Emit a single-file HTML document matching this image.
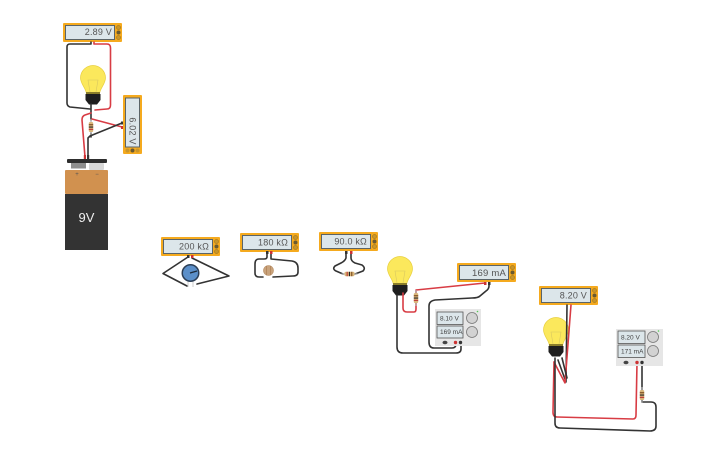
<!DOCTYPE html>
<html><head><meta charset="utf-8">
<style>
html,body{margin:0;padding:0;background:#fff;width:725px;height:453px;overflow:hidden}
svg{display:block;filter:blur(.3px)}
text{font-family:"Liberation Sans",sans-serif}
.m{font-size:9px;fill:#555;text-anchor:end;letter-spacing:.2px}
.p{font-size:6.5px;fill:#444}
.k{fill:none;stroke:#333;stroke-width:1.6;stroke-linejoin:round;stroke-linecap:round}
.r{fill:none;stroke:#d83c44;stroke-width:1.6;stroke-linejoin:round;stroke-linecap:round}
</style></head><body>
<svg width="725" height="453" viewBox="0 0 725 453" xmlns="http://www.w3.org/2000/svg">
<defs>
<g id="meter">
<rect x="0" y="0" width="59" height="19" rx="1" fill="#f5aa1e"/>
<rect x="2.500" y="2.500" width="49" height="14" fill="#dce6ea" stroke="#5a6468" stroke-width="1"/>
<circle cx="55.500" cy="4.500" r="2" fill="#c9952a" stroke="#8a6a20" stroke-width=".5"/>
<circle cx="55.500" cy="9.500" r="2" fill="#6a5a30"/>
<circle cx="55.500" cy="14.500" r="2" fill="#c9952a" stroke="#8a6a20" stroke-width=".5"/>
</g>
<g id="bulb">
<path d="M-6.500 15C-7 9-12.500 5-12.500 -1A12.500 12.500 0 0 1 12.500 -1C12.500 5 7 9 6.500 15Z" fill="#fbe85c" stroke="#e8cf3e" stroke-width=".7"/>
<path d="M-3 13L-5 1H5L3 13" fill="none" stroke="#d8c860" stroke-width=".6"/>
<rect x="-7" y="13" width="14" height="4" fill="#8a7d2a"/>
<path d="M-7.500 15H7.500V21L4 25.500H-4L-7.500 21Z" fill="#1e1e1e"/>
</g>
<g id="res">
<rect x="-2.200" y="-5" width="4.400" height="10" rx="1.400" fill="#d9b67a"/>
<rect x="-2.200" y="-2.800" width="4.400" height="1.100" fill="#7a4a20"/>
<rect x="-2.200" y="-.5" width="4.400" height="1.100" fill="#222"/>
<rect x="-2.200" y="1.800" width="4.400" height="1.100" fill="#b33"/>
<path d="M0 -8V-5M0 5V8" stroke="#aaa" stroke-width="1.200"/>
</g>
</defs>

<!-- Top circuit -->
<use href="#meter" x="63" y="23"/>
<text class="m" x="112" y="35">2.89 V</text>
<path class="k" d="M91 42V44H70Q67 44 67 47V103Q67 106 70 107L90 109"/>
<path class="r" d="M94 42V44H107Q110.500 44 110.500 48V105Q110.500 109 107 109L95 110"/>
<use href="#bulb" x="93" y="79"/>
<path class="k" d="M91 104V120M91 133V137"/>
<use href="#res" x="91" y="127"/>
<path class="r" d="M91 113L85 115Q82 116 82 120L85 157"/>
<path class="r" d="M92 119L122 127"/>
<path class="k" d="M88 157V138L90 136L122 123"/>
<rect x="121" y="121.500" width="2.500" height="3" fill="#333"/>
<rect x="121" y="126" width="2.500" height="3" fill="#c33"/>
<rect x="83.800" y="155" width="2.200" height="4" fill="#c33"/>
<rect x="87" y="155" width="2.200" height="4" fill="#333"/>
<!-- vertical meter -->
<rect x="123" y="95" width="19" height="59" rx="1" fill="#f5aa1e"/>
<rect x="125.500" y="98" width="14" height="49" fill="#dce6ea" stroke="#5a6468" stroke-width="1"/>
<circle cx="127.500" cy="150.500" r="2" fill="#c9952a"/><circle cx="132.500" cy="150.500" r="2" fill="#6a5a30"/><circle cx="137.500" cy="150.500" r="2" fill="#c9952a"/>
<text class="m" transform="translate(129.500,131) rotate(90)" style="text-anchor:middle" x="0" y="0">6.02 V</text>

<!-- Battery -->
<rect x="71" y="162" width="15" height="6.500" fill="#8e8e8e"/>
<rect x="89" y="163" width="15" height="7" rx="1" fill="#d8d8d8"/>
<rect x="67" y="159" width="40" height="4" rx="1" fill="#2e2e2e"/>
<rect x="65" y="170" width="43" height="24" rx="1" fill="#d1914f"/>
<rect x="65" y="194" width="43" height="56" fill="#333"/>
<text x="77" y="176" font-size="6" fill="#555" text-anchor="middle">+</text>
<text x="97" y="176" font-size="6" fill="#555" text-anchor="middle">−</text>
<text x="86.500" y="222" font-size="13" fill="#eee" text-anchor="middle">9V</text>

<!-- Pot -->
<use href="#meter" x="161" y="237"/>
<text class="m" x="209" y="249.500">200 kΩ</text>
<path class="k" d="M188 257L163 273.500L187 286"/>
<path class="k" d="M192 258L229 276L197 284"/>
<rect x="187" y="255" width="2.500" height="3" fill="#333"/><rect x="191" y="255" width="2.500" height="3" fill="#c33"/>
<circle cx="190.500" cy="273" r="9" fill="#2c3e55"/>
<circle cx="190.500" cy="273" r="7.500" fill="#5b8fc9"/>
<path d="M190 273L197 271" stroke="#1d2a3a" stroke-width="1.300"/>
<path d="M188 282V287M193 282V287" stroke="#ccc" stroke-width="1"/>

<!-- LDR -->
<use href="#meter" x="240" y="233"/>
<text class="m" x="288" y="245.500">180 kΩ</text>
<path class="k" d="M267 252V257Q267 259 264 259H259Q255 259 255 264V273Q255 277 259 277H263"/>
<path class="k" d="M271 252V259L292 261Q298 262 298 268V272Q298 276 293 276L273 277"/>
<circle cx="268.500" cy="270.500" r="5" fill="#c9a37c" stroke="#b58a60" stroke-width=".6"/>
<path d="M266.500 266V275M270.500 266V275" stroke="#a9794d" stroke-width=".6"/>
<rect x="266" y="251" width="2.500" height="3" fill="#333"/><rect x="270" y="251" width="2.500" height="3" fill="#c33"/>

<!-- Resistor meter -->
<use href="#meter" x="319" y="232"/>
<text class="m" x="367" y="244.500">90.0 kΩ</text>
<path class="k" d="M346 252V258Q345 261 341 263L335 266Q332 269 336 271L343 274"/>
<path class="k" d="M351 252V258Q351 261 355 263L362 265Q366 268 363 271L355 274"/>
<rect x="345" y="251" width="2.500" height="3" fill="#333"/><rect x="350" y="251" width="2.500" height="3" fill="#c33"/>
<use href="#res" transform="translate(349.500,274) rotate(90)"/>

<!-- Bulb + PSU -->
<use href="#bulb" x="400" y="270"/>
<use href="#meter" x="457" y="263"/>
<text class="m" x="506" y="276" style="font-size:9.500px">169 mA</text>
<path class="r" d="M403 293V308Q403 312 407 312H414Q416 312 416 309V303"/>
<path class="r" d="M416 293V290L485 283"/>
<use href="#res" x="416" y="298"/>
<path class="k" d="M397 295V347Q397 353 403 353H456Q461 353 461 349V343"/>
<path class="k" d="M489 283V286Q489 289 486 291L480 296Q478 298 472 298L435 300Q429 301 429 306V342Q429 348 434 348H452Q456 348 456 344V343"/>
<rect x="484" y="282" width="2.500" height="3" fill="#c33"/><rect x="488" y="282" width="2.500" height="3" fill="#333"/>
<rect x="435" y="309" width="46" height="37" fill="#e6e6e6"/>
<rect x="437" y="312" width="26" height="12.500" fill="#dce6ea" stroke="#555" stroke-width=".8"/>
<rect x="437" y="326" width="26" height="12" fill="#dce6ea" stroke="#555" stroke-width=".8"/>
<text class="p" x="440" y="320.500">8.10 V</text>
<text class="p" x="440" y="334">169 mA</text>
<circle cx="472" cy="318" r="5.500" fill="#d2d2d2" stroke="#777" stroke-width=".8"/>
<circle cx="472" cy="332" r="5.500" fill="#d2d2d2" stroke="#777" stroke-width=".8"/>
<circle cx="477.500" cy="311.500" r=".8" fill="#5c5"/>
<ellipse cx="445" cy="342.500" rx="2.500" ry="1.800" fill="#444"/>
<circle cx="455.500" cy="342.500" r="1.700" fill="#c33"/><circle cx="460.500" cy="342.500" r="1.700" fill="#333"/>

<!-- Right circuit -->
<use href="#meter" x="539" y="286"/>
<text class="m" x="587" y="298.500">8.20 V</text>
<use href="#bulb" x="556" y="331"/>
<path class="k" d="M567 305L566 382L558 360"/>
<path class="r" d="M571 305L565 383L554 362"/>
<path class="k" d="M562 358L567 378"/>
<path class="r" d="M554 362L553 412Q553 417 557 417L633 419Q636 419 636 415L637 363"/>
<path class="k" d="M555 358V423Q555 428 560 428L650 431Q656 431 656 426V407Q656 402 651 402H642V399"/>
<path class="k" d="M642 390V363"/>
<use href="#res" x="642" y="395"/>
<rect x="616" y="329" width="47" height="37" fill="#e6e6e6"/>
<rect x="618" y="331" width="27" height="12.500" fill="#dce6ea" stroke="#555" stroke-width=".8"/>
<rect x="618" y="345" width="27" height="12.500" fill="#dce6ea" stroke="#555" stroke-width=".8"/>
<text class="p" x="621" y="339.500">8.20 V</text>
<text class="p" x="621" y="353.500">171 mA</text>
<circle cx="653" cy="337" r="5.500" fill="#d2d2d2" stroke="#777" stroke-width=".8"/>
<circle cx="653" cy="351" r="5.500" fill="#d2d2d2" stroke="#777" stroke-width=".8"/>
<circle cx="658.500" cy="331" r=".8" fill="#5c5"/>
<ellipse cx="626" cy="362.500" rx="2.500" ry="1.800" fill="#444"/>
<circle cx="637" cy="362.500" r="1.700" fill="#c33"/><circle cx="642" cy="362.500" r="1.700" fill="#333"/>
</svg>
</body></html>
